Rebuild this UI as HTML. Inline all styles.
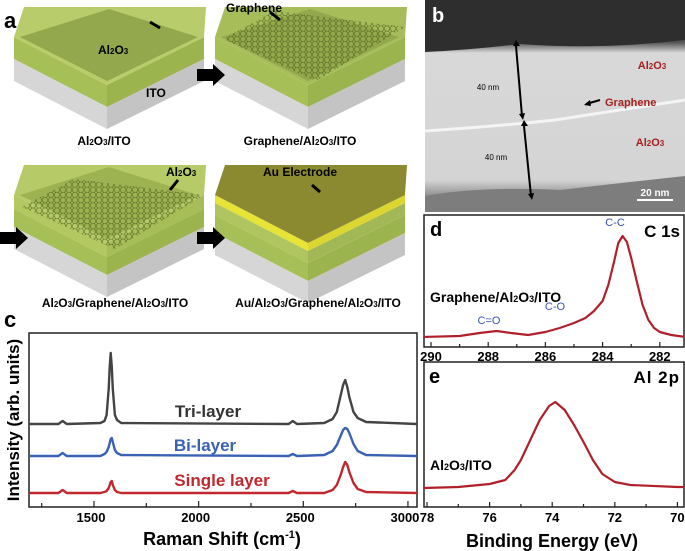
<!DOCTYPE html>
<html><head><meta charset="utf-8"><style>
body{margin:0;background:#fff}
svg{display:block;font-family:"Liberation Sans",sans-serif;font-weight:bold}
</style></head><body>
<svg id="fig" width="685" height="551" viewBox="0 0 685 551" xmlns="http://www.w3.org/2000/svg">
<defs>
<pattern id="hex" width="6" height="5.2" patternUnits="userSpaceOnUse">
<path d="M1.5 0 L4.5 0 L6 2.6 L4.5 5.2 L1.5 5.2 L0 2.6 Z" fill="none" stroke="#4a5a1a" stroke-width="0.5"/>
</pattern>
<linearGradient id="tema" x1="0" y1="0" x2="0" y2="1">
<stop offset="0" stop-color="#2a2a2a"/><stop offset="0.2" stop-color="#555"/><stop offset="0.25" stop-color="#d8d8d8"/><stop offset="0.85" stop-color="#d4d4d4"/><stop offset="0.93" stop-color="#8a8a8a"/><stop offset="1" stop-color="#6a6a6a"/>
</linearGradient>
</defs>
<g id="panel-a"></g>
<text x="4" y="28" font-size="22">a</text>
<g font-size="12" text-anchor="middle">
<text x="104" y="145">Al<tspan font-size="8">2</tspan>O<tspan font-size="8">3</tspan>/ITO</text>
<text x="300" y="145">Graphene/Al<tspan font-size="8">2</tspan>O<tspan font-size="8">3</tspan>/ITO</text>
<text x="115" y="307">Al<tspan font-size="8">2</tspan>O<tspan font-size="8">3</tspan>/Graphene/Al<tspan font-size="8">2</tspan>O<tspan font-size="8">3</tspan>/ITO</text>
<text x="318" y="307">Au/Al<tspan font-size="8">2</tspan>O<tspan font-size="8">3</tspan>/Graphene/Al<tspan font-size="8">2</tspan>O<tspan font-size="8">3</tspan>/ITO</text>
</g>
<g font-size="12">
<text x="98" y="54">Al<tspan font-size="8">2</tspan>O<tspan font-size="8">3</tspan></text>
<text x="146" y="97">ITO</text>
<text x="226" y="12">Graphene</text>
<text x="166" y="176">Al<tspan font-size="8">2</tspan>O<tspan font-size="8">3</tspan></text>
<text x="263" y="176">Au Electrode</text>
</g>

<g id="panel-b">
<rect x="425" y="0" width="260" height="212" fill="url(#tema)"/>
<path d="M425 0 H685 V40 Q600 50 520 44 Q470 50 425 52 Z" fill="#2e2e2e"/>
<path d="M425 196 Q480 186 560 190 Q630 182 685 176 V212 H425 Z" fill="#7d7d7d"/>
<path d="M425 131 Q500 126 555 120 Q620 110 685 100" stroke="#f4f4f4" stroke-width="3" fill="none"/>
<text x="432" y="22" font-size="20" fill="#fff">b</text>
<line x1="516" y1="46" x2="522" y2="116" stroke="#000" stroke-width="2"/>
<line x1="524" y1="126" x2="531" y2="196" stroke="#000" stroke-width="2"/>
<path d="M513 46 L516 40 L520 46 Z M519 114 L523 120 L525 113 Z M521 126 L524 120 L528 126 Z M528 194 L532 200 L534 193 Z" fill="#000"/>
<text x="488" y="90" font-size="8" font-weight="normal" text-anchor="middle">40 nm</text>
<text x="496" y="160" font-size="8" font-weight="normal" text-anchor="middle">40 nm</text>
<text x="652" y="69" font-size="11" fill="#a52020" text-anchor="middle">Al<tspan font-size="8">2</tspan>O<tspan font-size="8">3</tspan></text>
<text x="650" y="146" font-size="11" fill="#a52020" text-anchor="middle">Al<tspan font-size="8">2</tspan>O<tspan font-size="8">3</tspan></text>
<text x="605" y="106" font-size="11" fill="#a52020">Graphene</text>
<path d="M586 104 L600 100" stroke="#000" stroke-width="2"/><path d="M584 105 L590 100 L591 106 Z" fill="#000"/>
<text x="655" y="196" font-size="10" fill="#fff" text-anchor="middle">20 nm</text>
<rect x="637" y="199" width="36" height="2" fill="#fff"/>
</g>

<g id="panel-c"></g>
<g id="panel-d"></g>
<g id="panel-e"></g>
</svg>
<script>
// ---- Panel c data (Raman) ----
const ramanShift = [1190,1330,1350,1370,1530,1550,1560,1570,1575,1580,1585,1590,1600,1610,1630,2430,2450,2470,2600,2640,2660,2680,2690,2700,2710,2720,2740,2760,2800,3043];
const triLayer   = [83,83,86,83,84,86,92,118,140,154,140,118,92,87,84,83,86,83,84,88,95,113,122,127,120,110,95,89,85,83];
const biLayer    = [51,51,54,51,51,53,55,60,64,68,69,65,57,54,52,51,53,51,52,56,62,72,77,79,78,74,63,56,52,51];
const singleLayer= [14,14,17,14,14,15,16,19,22,25,26,22,17,15,14,14,16,14,14,17,22,33,40,45,42,35,24,18,15,14];
const ramanTicks = [1500,2000,2500,3000];
const ramanMinor = [1250,1750,2250,2750];
// ---- Panel d data (C 1s) ----
const c1sEnergy = [290.3,289,288.3,287.7,287.2,286.6,286,285.5,285,284.6,284.3,284,283.8,283.6,283.45,283.3,283.15,283,282.8,282.6,282.4,282.2,282,281.6,281.1];
const c1sCounts = [10,11,14,16,14,12,15,19,24,29,36,46,62,85,104,111,105,89,65,42,27,19,15,12,10];
const c1sTicks = [290,288,286,284,282];
// ---- Panel e data (Al 2p) ----
const al2pEnergy = [78.1,77,76,75.5,75.2,75,74.7,74.4,74.1,73.9,73.6,73.3,73,72.7,72.4,72,71.5,70,69.75];
const al2pCounts = [19,20,23,27,37,47,67,87,101,105,97,82,65,47,33,25,22,20,20];
const al2pTicks = [78,76,74,72,70];

const NS='http://www.w3.org/2000/svg';
function mk(tag,attrs,parent){const e=document.createElementNS(NS,tag);for(const k in attrs)e.setAttribute(k,attrs[k]);parent.appendChild(e);return e;}
function txt(parent,x,y,s,size,extra){const t=mk('text',Object.assign({x:x,y:y,'font-size':size},extra||{}),parent);t.textContent=s;return t;}

// ---- Panel a schematic ----
const pa=document.getElementById('panel-a');
function slab(x0,y0,opts){
  const g=mk('g',{},pa);
  
  
  const L=[x0,y0+30],F=[x0+93,y0+78],R=[x0+190,y0+30];
  const layers=opts.layers;
  let off=0;
  layers.forEach(l=>{
    const t=l[0];
    mk('polygon',{points:`${L[0]},${L[1]+off} ${F[0]},${F[1]+off} ${F[0]},${F[1]+off+t} ${L[0]},${L[1]+off+t}`,fill:l[1]},g);
    mk('polygon',{points:`${F[0]},${F[1]+off} ${R[0]},${R[1]+off} ${R[0]},${R[1]+off+t} ${F[0]},${F[1]+off+t}`,fill:l[2]},g);
    off+=t;
  });
  mk('polygon',{points:`${L[0]},${L[1]} ${x0+10},${y0} ${x0+192},${y0} ${R[0]},${R[1]} ${F[0]},${F[1]}`,fill:opts.top},g);
  if(opts.inner) mk('polygon',{points:`${L[0]+6},${L[1]} ${x0+95},${y0+2} ${R[0]-6},${R[1]} ${F[0]},${F[1]-4}`,fill:opts.inner},g);
  if(opts.hex){
    const hy=opts.hexY;
    mk('polygon',{points:`${L[0]+8},${L[1]+hy} ${x0+60},${y0+hy+2} ${R[0]},${R[1]+hy-12} ${F[0]+8},${F[1]+hy-6}`,fill:'url(#hex)'},g);
  }
}
slab(14,7,{top:'#b9cc6c',inner:'#93a84c',layers:[[22,'#a7bf57','#9bb44d'],[22,'#d6d6d6','#c4c4c4']]});
slab(215,7,{top:'#a7bd5a',inner:'#93a84c',hex:true,hexY:2,layers:[[22,'#a7bf57','#9bb44d'],[22,'#d6d6d6','#c4c4c4']]});
slab(14,165,{top:'#b6ca68',inner:'#9db352',hex:true,hexY:12,layers:[[14,'#b4c862','#a6bd58'],[18,'#a7bf57','#9bb44d'],[22,'#d6d6d6','#c4c4c4']]});
slab(215,165,{top:'#8c8a30',layers:[[8,'#e8e436','#dcd630'],[12,'#b0c460','#a2b856'],[18,'#a7bf57','#9bb44d'],[22,'#d6d6d6','#c4c4c4']]});
function arrow(x,y){const p=mk('polygon',{points:`${x},${y-6} ${x+16},${y-6} ${x+16},${y-11} ${x+28},${y} ${x+16},${y+11} ${x+16},${y+6} ${x},${y+6}`,fill:'#000'},pa);

}
arrow(197,75);arrow(0,238);arrow(197,238);
[[150,22,160,28],[270,12,280,20],[178,180,170,190],[312,185,320,192]].forEach(a=>{
  const l=mk('line',{x1:a[0],y1:a[1],x2:a[2],y2:a[3],stroke:'#000','stroke-width':3},pa);
  
  
});

// ---- Panel c ----
const pc=document.getElementById('panel-c');
const cx0=29,cx1=417,cy0=333,cy1=507;
const cX=v=>94+(v-1500)*0.2093;
const cY=v=>cy1-v;
const cf=mk('rect',{x:cx0,y:cy0,width:cx1-cx0,height:cy1-cy0,fill:'none',stroke:'#222','stroke-width':1.5},pc);


function series(parent,xs,ys,fx,fy,color,name,w){
  const p=mk('polyline',{points:xs.map((x,i)=>fx(x).toFixed(1)+','+fy(ys[i]).toFixed(1)).join(' '),fill:'none',stroke:color,'stroke-width':w,'stroke-linejoin':'round'},parent);
  
  
}
series(pc,ramanShift,triLayer,cX,cY,'#444','tri-layer-spectrum',2.4);
series(pc,ramanShift,biLayer,cX,cY,'#3a62b4','bi-layer-spectrum',2.4);
series(pc,ramanShift,singleLayer,cX,cY,'#c0282d','single-layer-spectrum',2.4);
ramanTicks.forEach(t=>{
  mk('line',{x1:cX(t),y1:cy1,x2:cX(t),y2:cy1-6,stroke:'#222','stroke-width':1.2},pc);
  const l=txt(pc,cX(t)-3,cy1+15,String(t),13,{'text-anchor':'middle'});
  
  
});
ramanMinor.forEach(t=>mk('line',{x1:cX(t),y1:cy1,x2:cX(t),y2:cy1-4,stroke:'#222','stroke-width':1.2},pc));
let t;
t=txt(pc,208,417,'Tri-layer',17,{'text-anchor':'middle',fill:'#333'});
t=txt(pc,205,451,'Bi-layer',17,{'text-anchor':'middle',fill:'#3a62b4'});
t=txt(pc,222,486,'Single layer',17,{'text-anchor':'middle',fill:'#c0282d'});
t=txt(pc,222,545,'Raman Shift (cm',18,{'text-anchor':'middle'});t.innerHTML='Raman Shift (cm<tspan font-size="11" dy="-7">-1</tspan><tspan dy="7">)</tspan>';
t=txt(pc,0,0,'Intensity (arb. units)',17,{'text-anchor':'middle',transform:'translate(19,420) rotate(-90)'});
t=txt(pc,4,327,'c',22,{});

// ---- Panel d ----
const pd=document.getElementById('panel-d');
const dx0=424,dx1=684,dy0=215,dy1=347;
const dX=v=>431+(290-v)*28.6;
const dY=v=>dy1-v;
const df=mk('rect',{x:dx0,y:dy0,width:dx1-dx0,height:dy1-dy0,fill:'none',stroke:'#222','stroke-width':1.5},pd);


const cp=document.createElementNS(NS,'clipPath');cp.id='dclip';pd.appendChild(cp);mk('rect',{x:dx0,y:dy0,width:dx1-dx0,height:dy1-dy0},cp);
const dg=mk('g',{'clip-path':'url(#dclip)'},pd);
series(dg,c1sEnergy,c1sCounts,dX,dY,'#b0202a','c1s-spectrum',2.2);
c1sTicks.forEach(v=>{
  mk('line',{x1:dX(v),y1:dy1,x2:dX(v),y2:dy1-5,stroke:'#222','stroke-width':1.2},pd);
  mk('line',{x1:dX(v-1),y1:dy1,x2:dX(v-1),y2:dy1-3,stroke:'#222','stroke-width':1.2},pd);
  const l=txt(pd,dX(v),dy1+14,String(v),13,{'text-anchor':'middle'});
  
  
});
t=txt(pd,430,236,'d',20,{});
t=txt(pd,680,237,'C 1s',17,{'text-anchor':'end'});
t=txt(pd,615,226,'C-C',11,{'text-anchor':'middle',fill:'#3a52a8','font-weight':'normal'});
t=txt(pd,555,310,'C-O',11,{'text-anchor':'middle',fill:'#3a52a8','font-weight':'normal'});
t=txt(pd,489,324,'C=O',11,{'text-anchor':'middle',fill:'#3a52a8','font-weight':'normal'});
t=txt(pd,430,302,'',14,{});t.innerHTML='Graphene/Al<tspan font-size="9">2</tspan>O<tspan font-size="9">3</tspan>/ITO';

// ---- Panel e ----
const pe=document.getElementById('panel-e');
const ex0=424,ex1=684,ey0=362,ey1=507;
const eX=v=>427+(78-v)*31.3;
const eY=v=>ey1-v;
const ef=mk('rect',{x:ex0,y:ey0,width:ex1-ex0,height:ey1-ey0,fill:'none',stroke:'#222','stroke-width':1.5},pe);


const cp2=document.createElementNS(NS,'clipPath');cp2.id='eclip';pe.appendChild(cp2);mk('rect',{x:ex0,y:ey0,width:ex1-ex0,height:ey1-ey0},cp2);
const eg=mk('g',{'clip-path':'url(#eclip)'},pe);
series(eg,al2pEnergy,al2pCounts,eX,eY,'#b0202a','al2p-spectrum',2.2);
al2pTicks.forEach(v=>{
  mk('line',{x1:eX(v),y1:ey1,x2:eX(v),y2:ey1-5,stroke:'#222','stroke-width':1.2},pe);
  mk('line',{x1:eX(v-1),y1:ey1,x2:eX(v-1),y2:ey1-3,stroke:'#222','stroke-width':1.2},pe);
  const l=txt(pe,eX(v),ey1+15,String(v),13,{'text-anchor':'middle'});
  
  
});
t=txt(pe,429,383,'e',20,{});
t=txt(pe,680,383,'Al 2p',17,{'text-anchor':'end','letter-spacing':'1'});
t=txt(pe,430,470,'',14,{});t.innerHTML='Al<tspan font-size="9">2</tspan>O<tspan font-size="9">3</tspan>/ITO';
t=txt(pe,552,547,'Binding Energy (eV)',18,{'text-anchor':'middle'});
</script>
</body></html>
